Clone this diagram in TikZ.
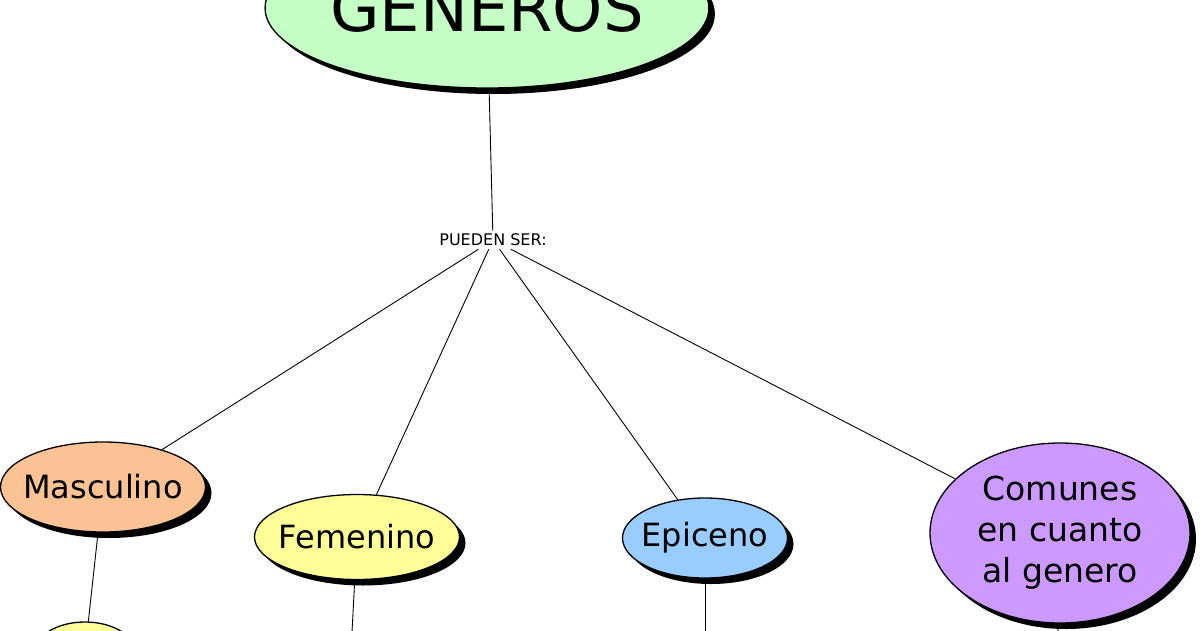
\documentclass[tikz,border=0pt]{standalone}
\usepackage{fontspec}
\setmainfont{DejaVu Sans}
\usetikzlibrary{shapes.geometric,shadows}
\definecolor{cgreen}{HTML}{C6FFC6}
\definecolor{corange}{HTML}{FBC393}
\definecolor{cyellow}{HTML}{FFFF99}
\definecolor{cblue}{HTML}{99CCFF}
\definecolor{cpurple}{HTML}{CC99FF}
\tikzset{
  concept/.style={ellipse,draw=black,line width=1.3pt,inner xsep=-30pt,inner ysep=-8pt,
    general shadow={fill=black,shadow xshift=6pt,shadow yshift=-6pt},
    font=\fontsize{32}{38}\selectfont,align=center},
  link/.style={draw=black,line width=0.9pt}
}
\begin{document}
\begin{tikzpicture}[x=1pt,y=-1pt]
\useasboundingbox[fill=white] (0,0) rectangle (1200,630);
\node[concept,inner sep=0pt,fill=cgreen,minimum width=390,minimum height=160,font=\fontsize{64}{70}\selectfont] (gen) at (487,8) {GENEROS};
\node[font=\fontsize{16}{18}\selectfont,inner sep=3pt] (ps) at (493,240) {PUEDEN SER:};
\node[concept,fill=corange,minimum width=205,minimum height=90] (mas) at (103,487) {Masculino};
\node[concept,fill=cyellow,minimum width=205,minimum height=85] (fem) at (357,537) {Femenino};
\node[concept,fill=cblue,minimum width=165,minimum height=80] (epi) at (705,538) {Epiceno};
\node[concept,inner xsep=0pt,inner ysep=0pt,fill=cpurple,minimum width=260,minimum height=180,font=\fontsize{33}{41}\selectfont] (com) at (1060,533) {Comunes\\en cuanto\\al genero};
\node[concept,fill=cyellow,minimum width=100,minimum height=60] (y1) at (85,652) {};
\coordinate (fe) at (352,632);
\coordinate (ee) at (705,632);
\coordinate (ce) at (1058,632);
\draw[link] (gen) -- (ps);
\draw[link] (ps) -- (mas);
\draw[link] (ps) -- (fem);
\draw[link] (ps) -- (epi);
\draw[link] (ps) -- (com);
\draw[link] (mas) -- (y1);
\draw[link] (fem) -- (fe);
\draw[link] (epi) -- (ee);
\draw[link] (com) -- (ce);
\end{tikzpicture}
\end{document}
